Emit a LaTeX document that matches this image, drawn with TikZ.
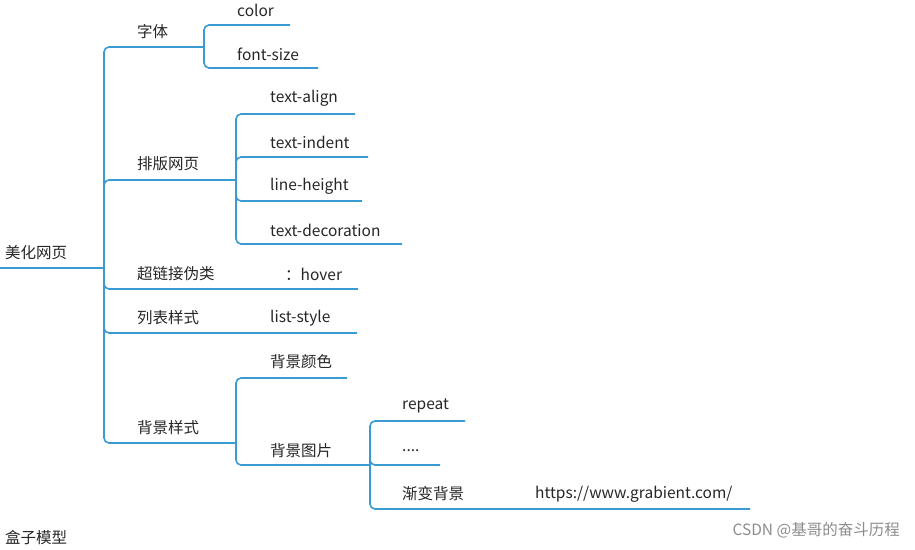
\documentclass[tikz,border=0pt]{standalone}
\usepackage{fontspec}
\setmainfont{Noto Sans CJK SC}
\usetikzlibrary{positioning}
\definecolor{linkblue}{HTML}{3A9AD2}
\tikzset{
    link/.style={draw=linkblue, line width=1.6pt, rounded corners=5pt},
    topic/.style={anchor=west, inner sep=0pt, font=\fontsize{15.5}{17}\selectfont, text=black!85}
}
\begin{document}
\begin{tikzpicture}[x=1pt, y=-1pt]
    \useasboundingbox (0,0) rectangle (915,549);
    % root
    \node[topic] (root) at (5,253) {美化网页};
    \coordinate (hub) at (104,268);
    \draw[link] (0,268) -- (hub);
    % first level
    \node[topic] (font) at (137,32) {字体};
    \node[topic] (layout) at (137,164) {排版网页};
    \node[topic] (pseudo) at (137,274) {超链接伪类};
    \node[topic] (hover) at (285,274) {：hover};
    \node[topic] (list) at (137,318) {列表样式};
    \node[topic] (liststyle) at (270,318) {list-style};
    \node[topic] (bg) at (137,428) {背景样式};
    \coordinate (fontend) at (204,47);
    \coordinate (layoutend) at (236,180);
    \coordinate (pseudoend) at (358,289);
    \coordinate (listend) at (357,333);
    \coordinate (bgend) at (236,443);
    \foreach \e in {fontend,layoutend,pseudoend,listend,bgend}
        \draw[link] (hub) |- (\e);
    % font
    \node[topic] (color) at (237,10) {color};
    \node[topic] (size) at (237,54) {font-size};
    \draw[link] (fontend) |- (290,25);
    \draw[link] (fontend) |- (318,68);
    % layout
    \node[topic] (align) at (270,98) {text-align};
    \node[topic] (indent) at (270,142) {text-indent};
    \node[topic] (lineh) at (270,186) {line-height};
    \node[topic] (deco) at (270,230) {text-decoration};
    \draw[link] (layoutend) |- (355,114);
    \draw[link] (layoutend) |- (368,157);
    \draw[link] (layoutend) |- (362,201);
    \draw[link] (layoutend) |- (402,244);
    % background
    \node[topic] (bgcolor) at (270,362) {背景颜色};
    \node[topic] (bgimage) at (270,451) {背景图片};
    \coordinate (imageend) at (370,465);
    \draw[link] (bgend) |- (347,378);
    \draw[link] (bgend) |- (imageend);
    \node[topic] (repeat) at (402,406) {repeat};
    \node[topic] (dots) at (402,451) {....};
    \node[topic] (gradient) at (402,494) {渐变背景};
    \node[topic] (url) at (535,494) {https://www.grabient.com/};
    \draw[link] (imageend) |- (465,421);
    \draw[link] (imageend) |- (440,465);
    \draw[link] (imageend) |- (750,509);
    % footer
    \node[topic] (box) at (5,538) {盒子模型};
    \node[topic, anchor=east, text=black!45] (mark) at (900,530) {CSDN @基哥的奋斗历程};
\end{tikzpicture}
\end{document}
